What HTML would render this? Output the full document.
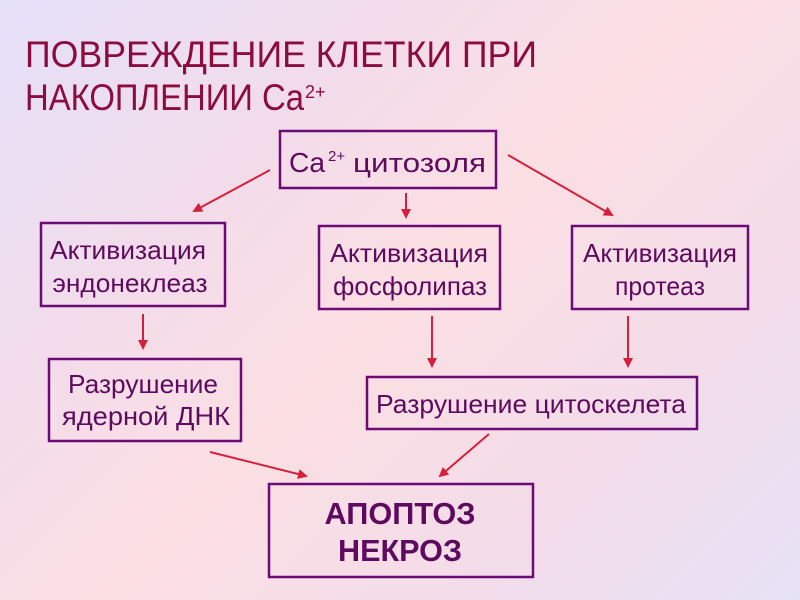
<!DOCTYPE html>
<html><head><meta charset="utf-8"><style>
html,body{margin:0;padding:0;}
body{width:800px;height:600px;overflow:hidden;background:linear-gradient(135deg,#e4e0f8 0%,#f3dcea 30%,#fbdfe3 50%,#f3dce9 75%,#e6e2f6 100%);}
svg{display:block;}
text{font-family:"Liberation Sans",sans-serif;}
</style></head><body>
<svg width="800" height="600" xmlns="http://www.w3.org/2000/svg">
<defs><marker id="a" markerWidth="10" markerHeight="10" refX="8" refY="5" orient="auto" markerUnits="userSpaceOnUse"><path d="M0,0 L10,5 L0,10 z" fill="#d4203c"/></marker></defs>
<g font-size="37" fill="#8c0c40">
<text x="25" y="67" textLength="512" lengthAdjust="spacingAndGlyphs">ПОВРЕЖДЕНИЕ КЛЕТКИ ПРИ</text>
<text x="25" y="110" textLength="279" lengthAdjust="spacingAndGlyphs">НАКОПЛЕНИИ Ca</text>
<text x="305" y="98" font-size="18">2+</text>
</g>
<g fill="none" stroke="#6c0a78" stroke-width="2.5">
<rect x="280" y="131" width="216" height="57"/>
<rect x="41" y="223" width="184" height="83"/>
<rect x="319" y="226" width="181" height="83"/>
<rect x="572" y="226" width="176" height="83"/>
<rect x="49" y="359" width="192" height="82"/>
<rect x="367" y="377" width="330" height="52"/>
<rect x="269" y="484" width="264" height="93"/>
</g>
<g font-size="26" fill="#5e0a5e" text-anchor="middle">
<text x="289" y="172" font-size="28" text-anchor="start" textLength="36" lengthAdjust="spacingAndGlyphs">Ca</text>
<text x="328" y="161" font-size="15" text-anchor="start">2+</text>
<text x="353" y="172" font-size="27" text-anchor="start" textLength="133" lengthAdjust="spacingAndGlyphs">цитозоля</text>
<text x="128" y="259" textLength="156" lengthAdjust="spacingAndGlyphs">Активизация</text>
<text x="130" y="292" textLength="155" lengthAdjust="spacingAndGlyphs">эндонеклеаз</text>
<text x="409" y="262" textLength="158" lengthAdjust="spacingAndGlyphs">Активизация</text>
<text x="410" y="295" textLength="154" lengthAdjust="spacingAndGlyphs">фосфолипаз</text>
<text x="660" y="262" textLength="154" lengthAdjust="spacingAndGlyphs">Активизация</text>
<text x="660" y="295" textLength="90" lengthAdjust="spacingAndGlyphs">протеаз</text>
<text x="143" y="393" textLength="150" lengthAdjust="spacingAndGlyphs">Разрушение</text>
<text x="146" y="425" textLength="168" lengthAdjust="spacingAndGlyphs">ядерной ДНК</text>
<text x="531" y="413" textLength="310" lengthAdjust="spacingAndGlyphs">Разрушение цитоскелета</text>
<text x="400" y="524" font-size="31" font-weight="bold" textLength="151" lengthAdjust="spacingAndGlyphs">АПОПТОЗ</text>
<text x="400" y="561" font-size="31" font-weight="bold" textLength="124" lengthAdjust="spacingAndGlyphs">НЕКРОЗ</text>
</g>
<g stroke="#d4203c" stroke-width="2" marker-end="url(#a)">
<line x1="270" y1="170" x2="194" y2="211"/>
<line x1="406" y1="193" x2="406" y2="217"/>
<line x1="508" y1="155" x2="612" y2="215"/>
<line x1="143" y1="314" x2="143" y2="348"/>
<line x1="432" y1="316" x2="432" y2="366"/>
<line x1="628" y1="316" x2="628" y2="366"/>
<line x1="210" y1="452" x2="306" y2="476"/>
<line x1="489" y1="434" x2="440" y2="476"/>
</g>
</svg>
</body></html>
